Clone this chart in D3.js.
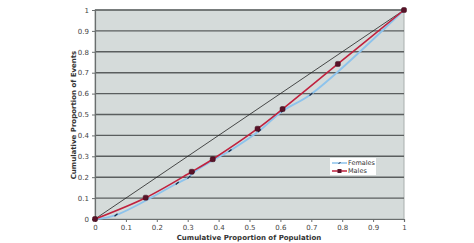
<!DOCTYPE html>
<html>
<head>
<meta charset="utf-8">
<script src="https://cdn.jsdelivr.net/npm/d3@7"></script>
<style>
body { margin: 0; background: #fff; }
text { font-family: "DejaVu Sans", sans-serif; }
</style>
</head>
<body>
<script>
// values
var ticks = [0, 0.1, 0.2, 0.3, 0.4, 0.5, 0.6, 0.7, 0.8, 0.9, 1];
var femalesX = [0, 0.068, 0.266, 0.304, 0.318, 0.383, 0.437, 0.532, 0.607, 0.699, 1];
var femalesY = [0, 0.019, 0.171, 0.2, 0.222, 0.282, 0.327, 0.422, 0.517, 0.597, 1];
var malesX = [0, 0.164, 0.313, 0.381, 0.526, 0.607, 0.786, 1];
var malesY = [0, 0.102, 0.226, 0.286, 0.432, 0.526, 0.742, 1];
var seriesNames = ["Females", "Males"];

var width = 474, height = 243;
var svg = d3.select("body").append("svg").attr("width", width).attr("height", height);

var x = d3.scaleLinear().domain([0, 1]).range([95, 404]);
var y = d3.scaleLinear().domain([0, 1]).range([219, 10]);

// plot area
svg.append("rect").attr("x", x(0)).attr("y", y(1))
   .attr("width", x(1) - x(0)).attr("height", y(0) - y(1))
   .style("fill", "#d5dbda").style("stroke", "#a9afae").style("stroke-width", 1);

// gridlines
svg.append("g").selectAll("line").data(ticks.slice(1)).enter().append("line")
   .attr("x1", x(0)).attr("x2", x(1))
   .attr("y1", function(d){ return y(d); }).attr("y2", function(d){ return y(d); })
   .style("stroke", "#5a5e5e").style("stroke-width", 1.4);

// axes
var xAxis = svg.append("g").attr("transform", "translate(0," + y(0) + ")")
   .call(d3.axisBottom(x).tickValues(ticks).tickSize(3).tickPadding(3)
         .tickFormat(function(d){ return d3.format("")(+d.toFixed(1)); }));
var yAxis = svg.append("g").attr("transform", "translate(" + x(0) + ",0)")
   .call(d3.axisLeft(y).tickValues(ticks).tickSize(3).tickPadding(3)
         .tickFormat(function(d){ return d3.format("")(+d.toFixed(1)); }));
[xAxis, yAxis].forEach(function(a){
  a.select(".domain").style("stroke", "#6a6e6e").style("stroke-width", 1.2);
  a.selectAll(".tick line").style("stroke", "#6a6e6e");
  a.selectAll("text").style("font-size", "7px").style("fill", "#444");
});

// equality line
svg.append("line").attr("x1", x(0)).attr("y1", y(0)).attr("x2", x(1)).attr("y2", y(1))
   .style("stroke", "#222").style("stroke-width", 0.8);

var females = femalesX.map(function(v, i){ return [v, femalesY[i]]; });
var males = malesX.map(function(v, i){ return [v, malesY[i]]; });

var line = d3.line().x(function(d){ return x(d[0]); }).y(function(d){ return y(d[1]); })
   .curve(d3.curveCatmullRom.alpha(0.5));

svg.append("path").datum(females).attr("d", line)
   .style("fill", "none").style("stroke", "#8dc3ec").style("stroke-width", 1.8);
svg.append("path").datum(males).attr("d", line)
   .style("fill", "none").style("stroke", "#c0213e").style("stroke-width", 1.6);

// female markers: small dark dashes
svg.append("g").selectAll("line").data(females).enter().append("line")
   .attr("x1", function(d){ return x(d[0]) - 1.5; }).attr("y1", function(d){ return y(d[1]) + 1.2; })
   .attr("x2", function(d){ return x(d[0]) + 1.5; }).attr("y2", function(d){ return y(d[1]) - 1.2; })
   .style("stroke", "#1d2a44").style("stroke-width", 1.3);

// male markers
svg.append("g").selectAll("rect").data(males).enter().append("rect")
   .attr("x", function(d){ return x(d[0]) - 2.5; }).attr("y", function(d){ return y(d[1]) - 2.5; })
   .attr("width", 5).attr("height", 5).attr("rx", 1.5)
   .style("fill", "#5a1228").style("stroke", "#3a0a18").style("stroke-width", 0.5);

// legend
var lg = svg.append("g").attr("transform", "translate(330,158)");
lg.append("rect").attr("width", 46).attr("height", 17).style("fill", "#fff");
var legendColors = ["#8dc3ec", "#c0213e"];
seriesNames.forEach(function(name, i){
  var yy = 5 + i * 8;
  lg.append("line").attr("x1", 2).attr("x2", 17).attr("y1", yy).attr("y2", yy)
    .style("stroke", legendColors[i]).style("stroke-width", 1.5);
  if (i == 0)
    lg.append("line").attr("x1", 8.5).attr("x2", 10.5).attr("y1", yy + 1).attr("y2", yy - 1)
      .style("stroke", "#1d2a44").style("stroke-width", 1);
  else
    lg.append("rect").attr("x", 7.5).attr("y", yy - 2).attr("width", 4).attr("height", 4)
      .style("fill", "#5a1228");
  lg.append("text").attr("x", 18).attr("y", yy + 2.3).text(name)
    .style("font-size", "6.5px").style("fill", "#333");
});

// axis titles
svg.append("text").attr("x", 249).attr("y", 240).attr("text-anchor", "middle")
   .text("Cumulative Proportion of Population")
   .style("font-size", "7px").style("font-weight", "bold").style("fill", "#333");
svg.append("text").attr("transform", "translate(76,115) rotate(-90)").attr("text-anchor", "middle")
   .text("Cumulative Proportion of Events")
   .style("font-size", "7px").style("font-weight", "bold").style("fill", "#333");
</script>
</body>
</html>
